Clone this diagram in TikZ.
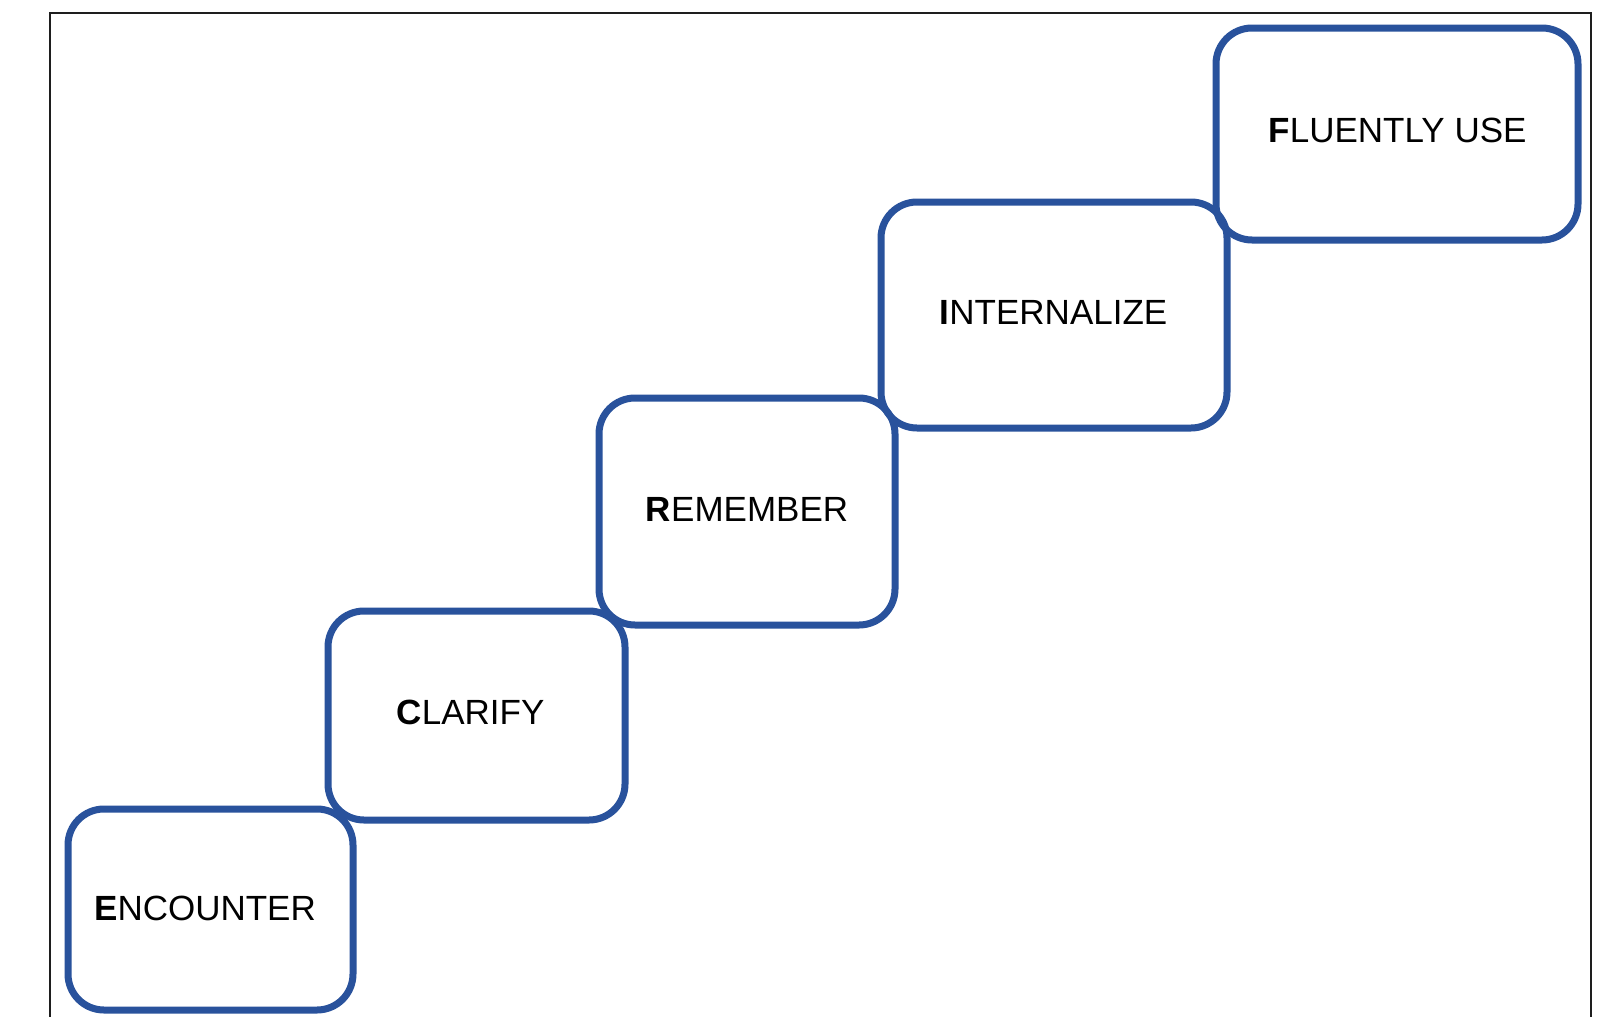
\documentclass[tikz,border=0pt]{standalone}
\usepackage{fontspec}
\setmainfont{Liberation Sans}
\definecolor{stepblue}{RGB}{41,82,156}
\definecolor{framegray}{RGB}{30,30,30}
\begin{document}
\begin{tikzpicture}[x=1pt,y=-1pt,
  stepbox/.style={draw=stepblue, line width=7pt, rounded corners=36pt, inner sep=0pt},
  steptext/.style={inner sep=0pt, font=\fontsize{35}{42}\selectfont, text=black}]
\useasboundingbox (0,0) rectangle (1622,1017);
\fill[white] (0,0) rectangle (1622,1017);
% frame
\coordinate (fbl) at (50,1030);
\coordinate (ftl) at (50,13);
\coordinate (ftr) at (1591,13);
\coordinate (fbr) at (1591,1030);
\draw[framegray, line width=1.3pt] (fbl) -- (ftl) -- (ftr) -- (fbr);
% boxes
\node[stepbox, minimum width=285pt, minimum height=201pt] (enc) at (210.5,909.5) {};
\node[stepbox, minimum width=297pt, minimum height=209pt] (cla) at (476.5,715.5) {};
\node[stepbox, minimum width=296pt, minimum height=227pt] (rem) at (747,511.5) {};
\node[stepbox, minimum width=346pt, minimum height=226pt] (int) at (1054,315) {};
\node[stepbox, minimum width=362pt, minimum height=212pt] (flu) at (1397,134) {};
% texts
\node[steptext] (tenc) at (205,908) {\textbf{E}NCOUNTER};
\node[steptext] (tcla) at (470.5,712.5) {\textbf{C}LARIFY};
\node[steptext] (trem) at (747,509) {\textbf{R}EMEMBER};
\node[steptext] (tint) at (1053.5,312.5) {\textbf{I}NTERNALIZE};
\node[steptext] (tflu) at (1397.5,130.5) {\textbf{F}LUENTLY USE};
\end{tikzpicture}
\end{document}
